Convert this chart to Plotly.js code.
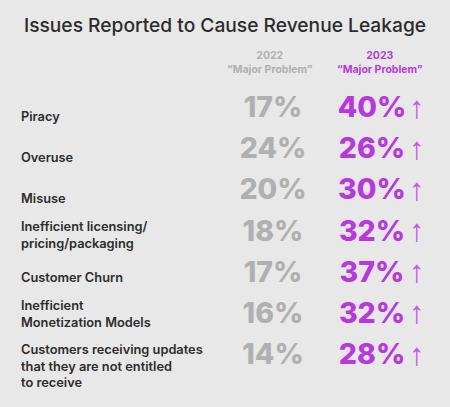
<!DOCTYPE html>
<html><head><meta charset="utf-8">
<script src="https://cdn.plot.ly/plotly-3.0.1.min.js"></script>
<style>html,body{margin:0;padding:0;background:#e8e8e8;}</style>
</head><body><div id="chart" style="width:450px;height:407px;"></div>
<script>
const categories = [
  "Piracy",
  "Overuse",
  "Misuse",
  "Inefficient licensing/<br>pricing/packaging",
  "Customer Churn",
  "Inefficient<br>Monetization Models",
  "Customers receiving updates<br>that they are not entitled<br>to receive"
];
const values2022 = [17, 24, 20, 18, 17, 16, 14];
const values2023 = [40, 26, 30, 32, 37, 32, 28];
const seriesNames = ["2022", "2023"];
const seriesSub = "\u201cMajor Problem\u201d";
const titleText = "Issues Reported to Cause Revenue Leakage";

// layout-only: vertical nudge of each row label (px)
const labelNudge = [-6, -6, -6, -1, -3, 2, -9];

const GRAY = "#b0b0b0", PURPLE = "#b838e0", DARK = "#2c2c2c";
const FONT = "Inter, 'Noto Sans', sans-serif";
const idx = categories.map((_, i) => i);

const traces = [
  {x: idx.map(() => 0), y: idx, mode: "text", type: "scatter",
   text: values2022.map(v => v + "%"), textposition: "middle center",
   textfont: {family: FONT, size: 28.5, color: GRAY, weight: 800}, hoverinfo: "skip"},
  {x: idx.map(() => 1), y: idx, mode: "text", type: "scatter",
   text: values2023.map(v => v + "%"), textposition: "middle center",
   textfont: {family: FONT, size: 28.5, color: PURPLE, weight: 800}, hoverinfo: "skip"}
];

const annotations = [];
categories.forEach((c, i) => {
  annotations.push({xref: "paper", yref: "y", x: 19/450, y: i, text: c,
    xanchor: "left", yanchor: "middle", align: "left", showarrow: false, yshift: labelNudge[i],
    font: {family: FONT, size: 12.8, color: DARK, weight: 600}});
  if (values2023[i] > values2022[i]) {
    annotations.push({xref: "x", yref: "y", x: 1, y: i, text: "\u2191", xshift: 45, yshift: 3,
      xanchor: "center", yanchor: "middle", showarrow: false,
      font: {family: "'Liberation Sans', sans-serif", size: 31, color: "#c25ae6", weight: 400}});
  }
});
const headerShift = [-3, 8];
seriesNames.forEach((s, k) => {
  annotations.push({xref: "x", yref: "paper", x: k, y: 1 - 62.5/407, xshift: headerShift[k],
    text: "<b>" + s + "<br>" + seriesSub + "</b>", showarrow: false,
    xanchor: "center", yanchor: "middle", align: "center",
    font: {family: FONT, size: 10.5, color: k === 0 ? GRAY : PURPLE}});
});

const layout = {
  width: 450, height: 407,
  margin: {l: 0, r: 0, t: 0, b: 0},
  paper_bgcolor: "#e8e8e8", plot_bgcolor: "#e8e8e8",
  title: {text: titleText, x: 0.5, xanchor: "center", y: 1 - 25/407, yanchor: "middle",
    font: {family: FONT, size: 19.2, color: DARK, weight: 500}},
  xaxis: {range: [-2.758, 1.788], visible: false, fixedrange: true},
  yaxis: {range: [7.214, -2.672], visible: false, fixedrange: true},
  showlegend: false,
  annotations: annotations
};
Plotly.newPlot("chart", traces, layout, {displayModeBar: false, staticPlot: true});
</script></body></html>
